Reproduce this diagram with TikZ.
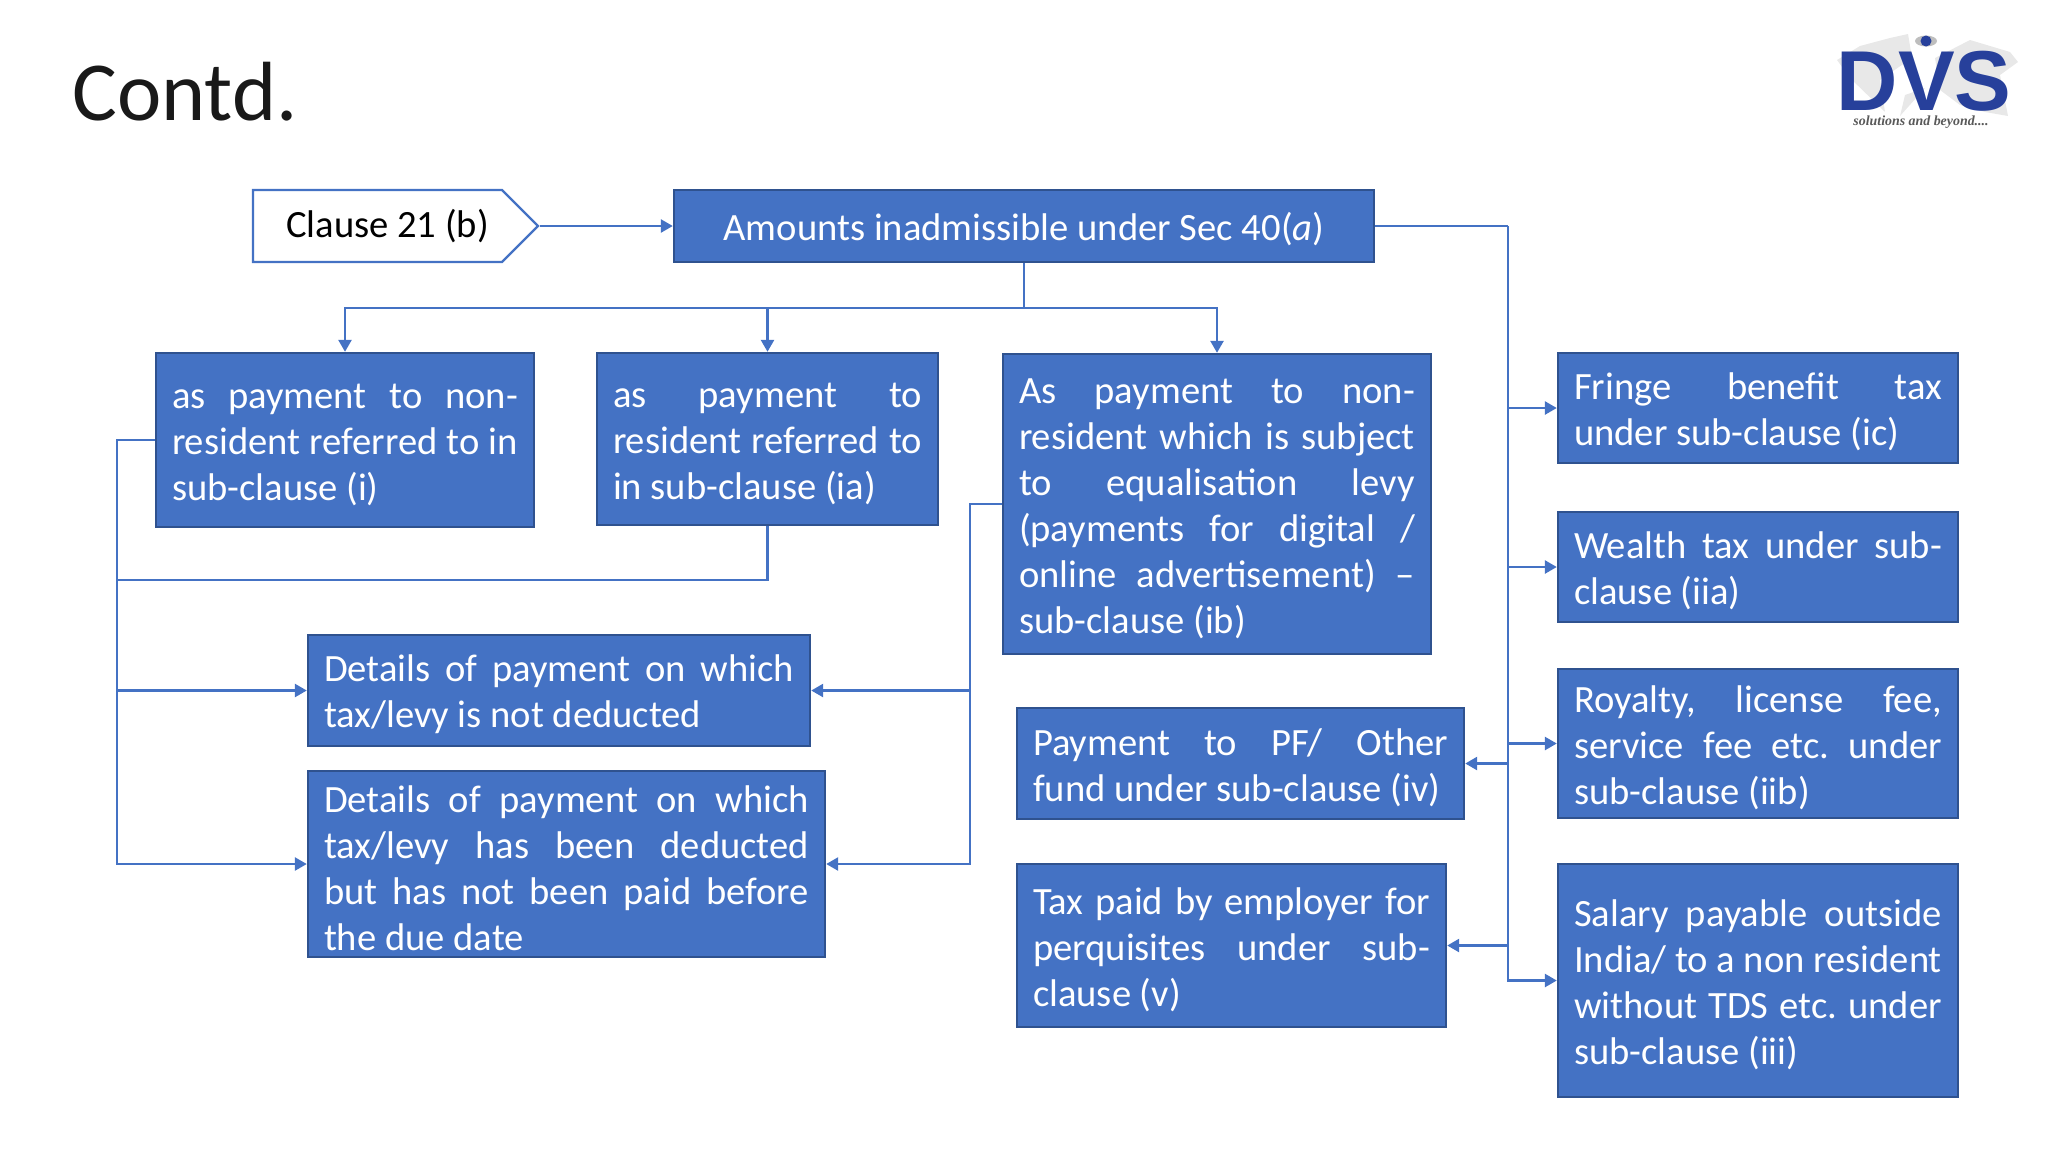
\documentclass[tikz,border=0pt]{standalone}
\usepackage{fontspec}
\setmainfont{Carlito}
\newfontfamily\logofont{Liberation Sans}
\newfontfamily\tagfont{Liberation Serif}
\usetikzlibrary{arrows.meta,shapes.symbols}
\definecolor{boxblue}{HTML}{4472C4}
\definecolor{boxedge}{HTML}{2F528F}
\definecolor{logoblue}{HTML}{27409B}
\definecolor{mapgrey}{HTML}{E8E8E8}
\begin{document}
\begin{tikzpicture}[x=0.5pt,y=-0.5pt]
			\tikzstyle{Box} = [rectangle, draw=boxedge, fill=boxblue, line width=1.2pt, text=white, inner xsep=8pt, inner ysep=0pt, align=justify, font={\fontsize{19.3}{23}\selectfont\frenchspacing\hyphenpenalty=10000\tolerance=10000\relax}, execute at begin node={\rule{0pt}{17.5pt}}]
			\tikzstyle{Line} = [draw=boxblue, line width=1.3pt]
			\tikzstyle{Arrow} = [Line, -{Triangle[length=6pt,width=6.5pt]}]
			\useasboundingbox (0,0) rectangle (2048,1152);
			\node (title) at (72,120) [anchor=base west, inner sep=0pt, text=black!90, font=\fontsize{42}{46}\selectfont] {Contd.};
			\fill [mapgrey] (1837,60) -- (1860,46) -- (1890,38) -- (1908,34) -- (1912,58) -- (1880,80) -- (1885,112) -- (1850,78) -- cycle;
			\fill [mapgrey] (1905,95) -- (1925,88) -- (1900,116) -- cycle;
			\fill [mapgrey] (1935,58) -- (1970,40) -- (2010,52) -- (2018,62) -- (2000,75) -- (2008,116) -- (1985,112) -- (1960,105) -- (1940,90) -- cycle;
			\fill [mapgrey!60!gray] (1926,41) ellipse (11 and 5.5);
			\fill [logoblue] (1926,41) circle (5.5);
			\node (dvs) at (1924,110) [anchor=base, inner sep=0pt, text=logoblue, font=\logofont\bfseries\fontsize{42.5}{46}\selectfont] {DVS};
			\node (tagline) at (1921,125) [anchor=base, inner sep=0pt, text=black!65, font=\tagfont\bfseries\itshape\fontsize{6.95}{8}\selectfont] {solutions and beyond....};
			\node (clause) at (377.5,226) [shape=signal, signal to=east, signal pointer angle=90, draw=boxblue, line width=1.2pt, fill=white, inner sep=0pt, minimum width=142.5pt, minimum height=36pt, font=\fontsize{19.3}{23}\selectfont] {\hspace{10pt}\raisebox{-1pt}{Clause 21 (b)}};
			\node (main) at (1024,226) [Box, minimum width=350pt, minimum height=36pt, align=center] {Amounts inadmissible under Sec 40(\textit{a})};
			\node (nonres) at (345,440) [Box, minimum width=189pt, minimum height=87pt, text width=173pt] {as payment to non-\linebreak resident referred to in\linebreak sub-clause (i)};
			\node (res) at (767.5,439) [Box, minimum width=170.5pt, minimum height=86pt, text width=154.5pt] {as payment to\linebreak resident referred to\linebreak in sub-clause (ia)};
			\node (levy) at (1217,504) [Box, minimum width=214pt, minimum height=150pt, text width=198pt] {As payment to non-\linebreak resident which is subject\linebreak to equalisation levy\linebreak (payments for digital /\linebreak online advertisement) --\linebreak sub-clause (ib)};
			\node (notded) at (559,690.5) [Box, minimum width=251pt, minimum height=55.5pt, text width=235pt] {Details of payment on which\linebreak tax/levy is not deducted};
			\node (notpaid) at (566.5,864) [Box, minimum width=258.5pt, minimum height=93pt, text width=242.5pt] {Details of payment on which\linebreak tax/levy has been deducted\linebreak but has not been paid before\linebreak the due date};
			\node (fund) at (1240.5,763.5) [Box, minimum width=223.5pt, minimum height=55.5pt, text width=207.5pt] {Payment to PF/ Other\linebreak fund under sub-clause (iv)};
			\node (perq) at (1231.5,945.5) [Box, minimum width=214.5pt, minimum height=81.5pt, text width=198.5pt] {Tax paid by employer for\linebreak perquisites under sub-\linebreak clause (v)};
			\node (fringe) at (1758,408) [Box, minimum width=200pt, minimum height=55pt, text width=184pt] {Fringe benefit tax\linebreak under sub-clause (ic)};
			\node (wealth) at (1758,567) [Box, minimum width=200pt, minimum height=55pt, text width=184pt] {Wealth tax under sub-\linebreak clause (iia)};
			\node (royalty) at (1758,743.5) [Box, minimum width=200pt, minimum height=74.5pt, text width=184pt] {Royalty, license fee,\linebreak service fee etc. under\linebreak sub-clause (iib)};
			\node (salary) at (1758,980.5) [Box, minimum width=200pt, minimum height=116.5pt, text width=184pt] {Salary payable outside\linebreak India/ to a non resident\linebreak without TDS etc. under\linebreak sub-clause (iii)};
			\coordinate (split) at (1024,308);
			\coordinate (rightbus) at (1508,226);
			\coordinate (leftbus) at (117,580);
			\coordinate (midbus) at (970,690.5);
			\draw [Arrow] (clause.east) to (main.west);
			\draw [Line] (main.south) to (split);
			\draw [Arrow] (split) -| (nonres.north);
			\draw [Arrow] (split) -| (res.north);
			\draw [Arrow] (split) -| (levy.north);
			\draw [Line] (main.east) to (rightbus);
			\draw [Arrow] (rightbus) |- (fringe.west);
			\draw [Arrow] (rightbus) |- (wealth.west);
			\draw [Arrow] (rightbus) |- (royalty.west);
			\draw [Arrow] (rightbus) |- (salary.west);
			\draw [Arrow] (rightbus) |- (fund.east);
			\draw [Arrow] (rightbus) |- (perq.east);
			\draw [Line] (nonres.west) -| (leftbus);
			\draw [Line] (res.south) |- (leftbus);
			\draw [Arrow] (leftbus) |- (notded.west);
			\draw [Arrow] (leftbus) |- (notpaid.west);
			\draw [Line] (levy.west) -| (midbus);
			\draw [Arrow] (midbus) to (notded.east);
			\draw [Arrow] (midbus) |- (notpaid.east);
		\end{tikzpicture}
\end{document}
